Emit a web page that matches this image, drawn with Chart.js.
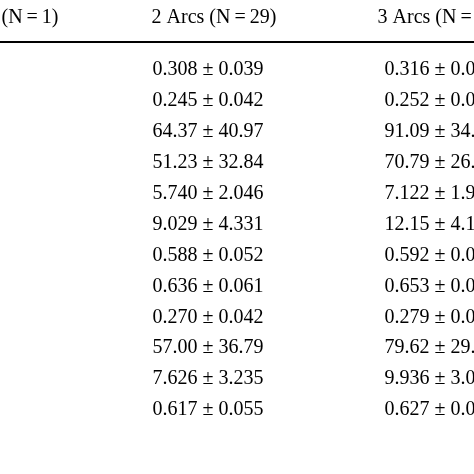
<!DOCTYPE html>
<html><head><meta charset="utf-8">
<script src="https://cdn.jsdelivr.net/npm/chart.js@4"></script>
<style>html,body{margin:0;padding:0;background:#fff}#w{width:474px;height:474px}</style>
</head><body><div id="w"><canvas id="c"></canvas></div>
<script>
const columnHeaders = ["1 Arc (N\u2009=\u20091)", "2 Arcs (N\u2009=\u200929)", "3 Arcs (N\u2009=\u200912)"];
const columnX = [5, 214, 440];
const col2Mean = ["0.308","0.245","64.37","51.23","5.740","9.029","0.588","0.636","0.270","57.00","7.626","0.617"];
const col2Sd   = ["0.039","0.042","40.97","32.84","2.046","4.331","0.052","0.061","0.042","36.79","3.235","0.055"];
const col3Mean = ["0.316","0.252","91.09","70.79","7.122","12.15","0.592","0.653","0.279","79.62","9.936","0.627"];
const col3Sd   = ["0.041","0.044","34.52","26.18","1.942","4.126","0.048","0.057","0.040","29.87","3.014","0.051"];
const rowIdx = col2Mean.map((_, i) => i);

const tablePlugin = {
  id: 'table',
  afterDraw(chart) {
    const ctx = chart.ctx, xs = chart.scales.x, ys = chart.scales.y;
    ctx.save();
    ctx.fillStyle = '#000';
    ctx.font = '20px "Liberation Serif"';
    ctx.textAlign = 'center';
    ctx.textBaseline = 'middle';
    columnHeaders.forEach((h, j) => ctx.fillText(h, xs.getPixelForValue(columnX[j]), ys.getPixelForValue(-1.68)));
    ctx.fillRect(0, ys.getPixelForValue(-0.906) - 1, chart.width, 2);
    rowIdx.forEach(i => {
      const y = ys.getPixelForValue(i);
      ctx.fillText(col2Mean[i] + ' \u00b1 ' + col2Sd[i], xs.getPixelForValue(columnX[1] - 6), y);
      ctx.fillText(col3Mean[i] + ' \u00b1 ' + col3Sd[i], xs.getPixelForValue(columnX[2]), y);
    });
    ctx.restore();
  }
};

new Chart(document.getElementById('c'), {
  type: 'scatter',
  data: { datasets: [{ data: rowIdx.map(i => ({x: columnX[1], y: i})), pointRadius: 0 }] },
  options: {
    responsive: true, maintainAspectRatio: false, animation: false,
    layout: { padding: 0 },
    plugins: { legend: { display: false }, tooltip: { enabled: false } },
    scales: {
      x: { type: 'linear', min: 0, max: 474, display: false },
      y: { type: 'linear', min: -2.265, max: 13.07, reverse: true, display: false }
    }
  },
  plugins: [tablePlugin]
});
</script></body></html>
